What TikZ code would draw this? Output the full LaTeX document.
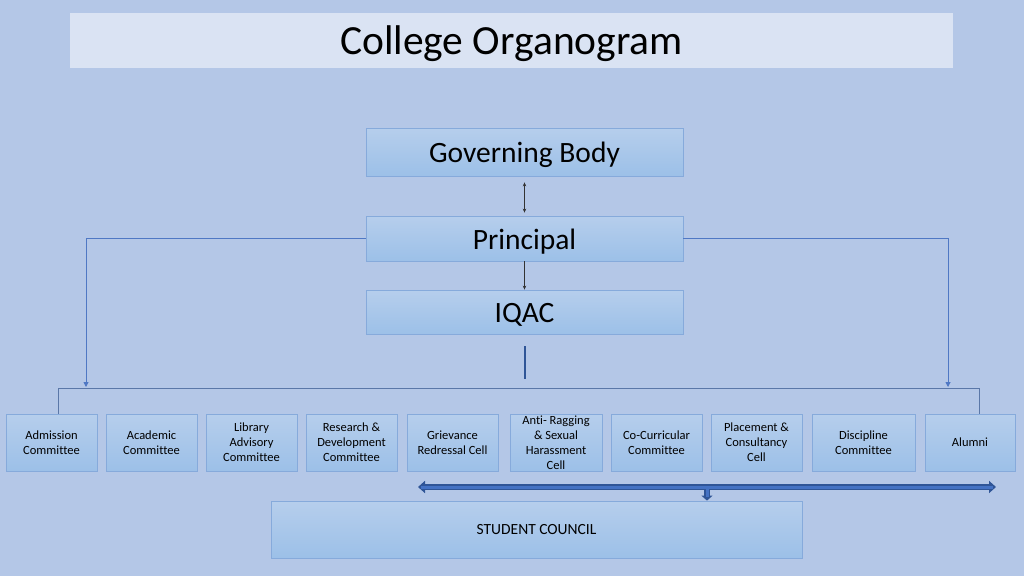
\documentclass[tikz,border=0pt]{standalone}
\usepackage{fontspec}
\setmainfont{Carlito}[Ligatures=CommonOff]
\usetikzlibrary{arrows.meta}
\definecolor{bg}{HTML}{B4C7E7}
\definecolor{banner}{HTML}{DAE3F3}
\definecolor{boxtop}{HTML}{B6CEEC}
\definecolor{boxbot}{HTML}{9CC0E8}
\definecolor{boxline}{HTML}{86AADB}
\definecolor{connblue}{HTML}{4F78C4}
\definecolor{busline}{HTML}{5A77A8}
\definecolor{darkblue}{HTML}{2F5597}
\definecolor{arrowfill}{HTML}{4472C4}
\tikzset{
  orgbox/.style={draw=boxline, line width=0.8pt, top color=boxtop, bottom color=boxbot,
    inner sep=1pt, align=center, text=black},
  bigbox/.style={orgbox, minimum width=317pt, text height=23pt, text depth=2pt,
    font=\fontsize{29.5}{34}\selectfont},
  smallbox/.style={orgbox, minimum height=57pt, font=\fontsize{12.5}{15}\selectfont},
  conn/.style={draw=connblue, line width=0.9pt},
  bus/.style={draw=busline, line width=0.9pt},
  blk/.style={draw=black!80, line width=0.7pt}
}
\begin{document}
\begin{tikzpicture}[x=1pt,y=-1pt]
\fill[bg] (0,0) rectangle (1024,576);
\useasboundingbox (0,0) rectangle (1024,576);
% title banner
\node[fill=banner, minimum width=883pt, minimum height=55pt, inner sep=0pt,
  text height=31pt, text depth=3pt,
  font=\fontsize{41.5}{46}\selectfont] (title) at (511.5,40) {College Organogram};
% top chain
\node[bigbox, minimum height=48pt] (gb) at (524.5,152) {Governing Body};
\node[bigbox, minimum height=45pt] (pri) at (524.5,238.5) {Principal};
\node[bigbox, minimum height=44pt] (iqac) at (524.5,312) {IQAC};
\draw[blk, {Stealth[length=4pt,width=3.5pt]}-{Stealth[length=4pt,width=3.5pt]}] ([yshift=-6pt]gb.south) -- ([yshift=3pt]pri.north);
\draw[blk, -{Stealth[length=4pt,width=3.5pt]}] (pri.south) -- (iqac.north);
\coordinate (iqa) at (525,346);
\coordinate (iqb) at (525,379);
\draw[draw=darkblue, line width=2pt] (iqa) -- (iqb);
% bottom row
\node[smallbox, minimum width=91pt] (adm) at (51.5,442.5) {Admission\\Committee};
\node[smallbox, minimum width=91pt] (aca) at (151.5,442.5) {Academic\\Committee};
\node[smallbox, minimum width=91pt] (lib) at (251.5,442.5) {Library\\Advisory\\Committee};
\node[smallbox, minimum width=91pt] (rnd) at (351.5,442.5) {Research \&\\Development\\Committee};
\node[smallbox, minimum width=91pt] (grv) at (452.5,442.5) {Grievance\\Redressal Cell};
\node[smallbox, minimum width=92pt, inner sep=0pt] (arg) at (556,442.5) {Anti- Ragging\\\& Sexual\\Harassment\\Cell};
\node[smallbox, minimum width=91pt] (ccc) at (656.5,442.5) {Co-Curricular\\Committee};
\node[smallbox, minimum width=91pt] (plc) at (756.5,442.5) {Placement \&\\Consultancy\\Cell};
\node[smallbox, minimum width=103pt] (dis) at (863.5,442.5) {Discipline\\Committee};
\node[smallbox, minimum width=90pt] (alu) at (970,442.5) {Alumni};
% bus line
\coordinate (busL) at (58,388);
\coordinate (busR) at (979,388);
\draw[bus] (busL |- adm.north) -- (busL) -- (busR) -- (busR |- alu.north);
% principal side connectors
\coordinate (lt) at (86,387);
\coordinate (rt) at (948,387);
\draw[conn, -{Triangle[length=5pt,width=5pt]}] (pri.west) -| (lt);
\draw[conn, -{Triangle[length=5pt,width=5pt]}] (pri.east) -| (rt);
% student council
\node[smallbox, minimum width=531pt, minimum height=57pt, font=\fontsize{15.5}{18}\selectfont] (sc) at (536.5,529.5) {STUDENT COUNCIL};
\coordinate (thL) at (418,487);
\coordinate (thR) at (996,487);
\coordinate (thM) at (707,487);
\draw[draw=darkblue, line width=5.2pt, {Triangle[length=7pt,width=12pt]}-{Triangle[length=7pt,width=12pt]}] (thL) -- (thR);
\draw[draw=arrowfill, line width=3pt, shorten <=3pt, shorten >=3pt] (thL) -- (thR);
\draw[draw=darkblue, line width=5.2pt, -{Triangle[length=5pt,width=11pt]}] (thM) -- (thM |- sc.north);
\draw[draw=arrowfill, line width=3pt, shorten >=4pt] (thM) -- (thM |- sc.north);
\draw[draw=arrowfill, line width=3pt] ([xshift=-30pt]thM) -- ([xshift=30pt]thM);
\end{tikzpicture}
\end{document}
